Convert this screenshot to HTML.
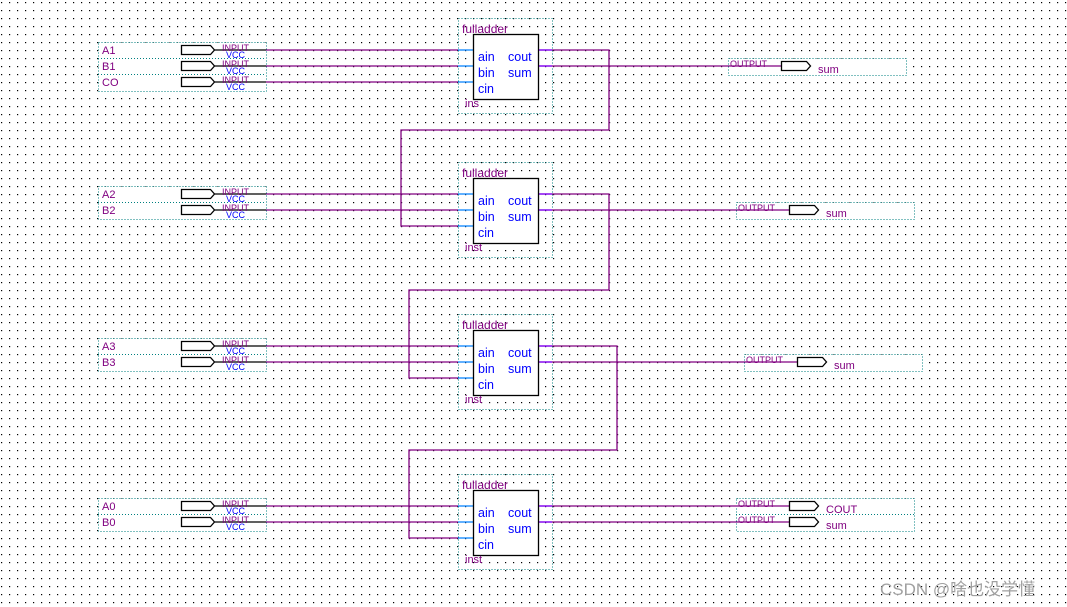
<!DOCTYPE html>
<html><head><meta charset="utf-8"><style>
html,body{margin:0;padding:0;background:#fff;}
svg{display:block;font-family:"Liberation Sans","Noto Sans CJK SC",sans-serif;}
.lbl{fill:#800080;font-size:11px;}
.pin{fill:#0000ff;font-size:12.5px;}
.inp{fill:#800080;font-size:9px;}
.vcc{fill:#0000ff;font-size:9px;}
.w{stroke:#800080;stroke-width:1.3;fill:none;}
.b{stroke:#0080ff;stroke-width:1.3;fill:none;}
.k{stroke:#000;stroke-width:1.3;fill:#fff;}
.dot{stroke:#008080;stroke-width:1;stroke-dasharray:1 2;fill:none;}
.dotf{stroke:#008080;stroke-width:1;stroke-dasharray:1 2;fill:#fff;}
</style></head><body>
<svg width="1067" height="607" viewBox="0 0 1067 607" xmlns="http://www.w3.org/2000/svg">
<defs><pattern id="g" width="8" height="8" patternUnits="userSpaceOnUse" x="1" y="2"><rect x="0" y="0" width="1.2" height="1.2" fill="#000"/></pattern></defs>
<rect width="1067" height="607" fill="url(#g)"/>

<rect x="98.5" y="42.5" width="168" height="49" class="dotf"/>
<line x1="98" y1="58.5" x2="266" y2="58.5" class="dot"/><line x1="98" y1="74.5" x2="266" y2="74.5" class="dot"/>
<rect x="98.5" y="186.5" width="168" height="33" class="dotf"/>
<line x1="98" y1="202.5" x2="266" y2="202.5" class="dot"/>
<rect x="98.5" y="338.5" width="168" height="33" class="dotf"/>
<line x1="98" y1="354.5" x2="266" y2="354.5" class="dot"/>
<rect x="98.5" y="498.5" width="168" height="33" class="dotf"/>
<line x1="98" y1="514.5" x2="266" y2="514.5" class="dot"/>

<g>
<text x="102" y="54" class="lbl">A1</text><text x="102" y="70" class="lbl">B1</text><text x="102" y="86" class="lbl">CO</text>
<text x="102" y="198" class="lbl">A2</text><text x="102" y="214" class="lbl">B2</text>
<text x="102" y="350" class="lbl">A3</text><text x="102" y="366" class="lbl">B3</text>
<text x="102" y="510" class="lbl">A0</text><text x="102" y="526" class="lbl">B0</text>
</g>
<g>
<path class="k" d="M181.5 45.5h29l4 4.5l-4 4.5h-29z M214 50H266"/>
<path class="k" d="M181.5 61.5h29l4 4.5l-4 4.5h-29z M214 66H266"/>
<path class="k" d="M181.5 77.5h29l4 4.5l-4 4.5h-29z M214 82H266"/>
<path class="k" d="M181.5 189.5h29l4 4.5l-4 4.5h-29z M214 194H266"/>
<path class="k" d="M181.5 205.5h29l4 4.5l-4 4.5h-29z M214 210H266"/>
<path class="k" d="M181.5 341.5h29l4 4.5l-4 4.5h-29z M214 346H266"/>
<path class="k" d="M181.5 357.5h29l4 4.5l-4 4.5h-29z M214 362H266"/>
<path class="k" d="M181.5 501.5h29l4 4.5l-4 4.5h-29z M214 506H266"/>
<path class="k" d="M181.5 517.5h29l4 4.5l-4 4.5h-29z M214 522H266"/>
</g>
<g>
<text x="222" y="51" class="inp">INPUT</text><text x="226" y="58" class="vcc">VCC</text>
<text x="222" y="67" class="inp">INPUT</text><text x="226" y="74" class="vcc">VCC</text>
<text x="222" y="83" class="inp">INPUT</text><text x="226" y="90" class="vcc">VCC</text>
<text x="222" y="195" class="inp">INPUT</text><text x="226" y="202" class="vcc">VCC</text>
<text x="222" y="211" class="inp">INPUT</text><text x="226" y="218" class="vcc">VCC</text>
<text x="222" y="347" class="inp">INPUT</text><text x="226" y="354" class="vcc">VCC</text>
<text x="222" y="363" class="inp">INPUT</text><text x="226" y="370" class="vcc">VCC</text>
<text x="222" y="507" class="inp">INPUT</text><text x="226" y="514" class="vcc">VCC</text>
<text x="222" y="523" class="inp">INPUT</text><text x="226" y="530" class="vcc">VCC</text>
</g>

<g>
<rect x="458.5" y="18.5" width="94" height="95" class="dot"/>
<rect x="458.5" y="162.5" width="94" height="95" class="dot"/>
<rect x="458.5" y="314.5" width="94" height="95" class="dot"/>
<rect x="458.5" y="474.5" width="94" height="95" class="dot"/>
</g>

<!-- output boxes (white) -->
<rect x="728.5" y="58.5" width="178" height="17" class="dotf"/>
<rect x="736.5" y="202.5" width="178" height="17" class="dotf"/>
<rect x="744.5" y="354.5" width="178" height="17" class="dotf"/>
<rect x="736.5" y="498.5" width="178" height="33" class="dotf"/>
<line x1="736" y1="514.5" x2="914" y2="514.5" class="dot"/>

<path class="w" d="M266 50H458M266 66H458M266 82H458M266 194H458M266 210H458M266 346H458M266 362H458M266 506H458M266 522H458"/>
<path class="w" d="M538 50H609V130H401V226H458"/>
<path class="w" d="M538 194H609V290H409V378H458"/>
<path class="w" d="M538 346H617V450H409V538H458"/>
<path class="w" d="M538 66H781M538 210H789M538 362H797M538 506H789M538 522H789"/>
<path class="b" d="M458 50H473M458 66H473M458 82H473M458 194H473M458 210H473M458 226H473M458 346H473M458 362H473M458 378H473M458 506H473M458 522H473M458 538H473"/>
<path class="b" style="stroke:#8000ff" d="M538 50H552M538 66H552M538 194H552M538 210H552M538 346H552M538 362H552M538 506H552M538 522H552"/>

<g fill="#fff" stroke="#000" stroke-width="1.3">
<rect x="473.5" y="34.5" width="65" height="65"/>
<rect x="473.5" y="178.5" width="65" height="65"/>
<rect x="473.5" y="330.5" width="65" height="65"/>
<rect x="473.5" y="490.5" width="65" height="65"/>
</g>
<g>
<text x="462" y="33" class="lbl" style="font-size:12px">fulladder</text>
<text x="478" y="61" class="pin">ain</text><text x="508" y="61" class="pin">cout</text>
<text x="478" y="77" class="pin">bin</text><text x="508" y="77" class="pin">sum</text>
<text x="478" y="93" class="pin">cin</text><text x="465" y="107" class="lbl">ins</text>

<text x="462" y="177" class="lbl" style="font-size:12px">fulladder</text>
<text x="478" y="205" class="pin">ain</text><text x="508" y="205" class="pin">cout</text>
<text x="478" y="221" class="pin">bin</text><text x="508" y="221" class="pin">sum</text>
<text x="478" y="237" class="pin">cin</text><text x="465" y="251" class="lbl">inst</text>

<text x="462" y="329" class="lbl" style="font-size:12px">fulladder</text>
<text x="478" y="357" class="pin">ain</text><text x="508" y="357" class="pin">cout</text>
<text x="478" y="373" class="pin">bin</text><text x="508" y="373" class="pin">sum</text>
<text x="478" y="389" class="pin">cin</text><text x="465" y="403" class="lbl">inst</text>

<text x="462" y="489" class="lbl" style="font-size:12px">fulladder</text>
<text x="478" y="517" class="pin">ain</text><text x="508" y="517" class="pin">cout</text>
<text x="478" y="533" class="pin">bin</text><text x="508" y="533" class="pin">sum</text>
<text x="478" y="549" class="pin">cin</text><text x="465" y="563" class="lbl">inst</text>
</g>

<path class="k" d="M781.5 61.5h25l4 4.5l-4 4.5h-25z"/>
<path class="k" d="M789.5 205.5h25l4 4.5l-4 4.5h-25z"/>
<path class="k" d="M797.5 357.5h25l4 4.5l-4 4.5h-25z"/>
<path class="k" d="M789.5 501.5h25l4 4.5l-4 4.5h-25z"/>
<path class="k" d="M789.5 517.5h25l4 4.5l-4 4.5h-25z"/>
<text x="730" y="67" class="inp">OUTPUT</text><text x="818" y="73" class="lbl">sum</text>
<text x="738" y="211" class="inp">OUTPUT</text><text x="826" y="217" class="lbl">sum</text>
<text x="746" y="363" class="inp">OUTPUT</text><text x="834" y="369" class="lbl">sum</text>
<text x="738" y="507" class="inp">OUTPUT</text><text x="826" y="513" class="lbl">COUT</text>
<text x="738" y="523" class="inp">OUTPUT</text><text x="826" y="529" class="lbl">sum</text>

<text x="880" y="595" fill="#a0a0a0" font-size="17">CSDN @啥也没学懂</text>
</svg>
</body></html>
